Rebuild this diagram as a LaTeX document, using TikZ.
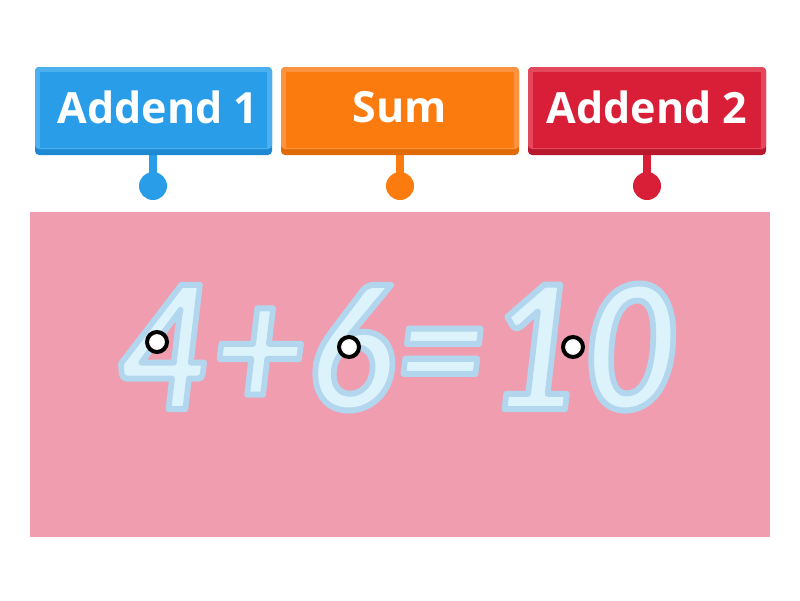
\documentclass[tikz,border=0pt]{standalone}
\usepackage{fontspec}
\usetikzlibrary{calc}
\setmainfont{Open Sans}
\newfontfamily\numfont{Lato}
\definecolor{pinkbg}{HTML}{F09DB0}
\definecolor{bluebase}{HTML}{1E88D2}
\definecolor{bluemain}{HTML}{2A9DE9}
\definecolor{bluetop}{HTML}{4DB0EE}
\definecolor{orangebase}{HTML}{E06A05}
\definecolor{orangemain}{HTML}{FB7B0E}
\definecolor{orangetop}{HTML}{FC9340}
\definecolor{redbase}{HTML}{B8182E}
\definecolor{redmain}{HTML}{D81F37}
\definecolor{redtop}{HTML}{E4485C}
\definecolor{glyph}{HTML}{DDF3FB}
\newcommand{\strokedtext}[1]{\special{pdf:literal direct 2 Tr 6 w 1 j 0.70 0.84 0.93 RG}#1\special{pdf:literal direct 0 Tr}}
\tikzset{
  lbl/.style={font=\bfseries\fontsize{43}{48}\selectfont, text=white, inner sep=0pt},
  stem/.style={line width=8pt},
  pin/.style={circle, minimum size=28pt, inner sep=0pt},
  dotmark/.style={circle, draw=black, line width=4pt, fill=white, minimum size=20pt, inner sep=0pt},
  eqtext/.style={font=\numfont\bfseries\itshape\fontsize{172}{180}\selectfont, inner sep=0pt, xscale=0.95},
}
\begin{document}
\begin{tikzpicture}[x=1pt,y=-1pt]
\useasboundingbox (0,0) rectangle (800,600);
\fill[white] (0,0) rectangle (800,600);
% boxes
\foreach \nm/\xa/\xb/\col in {b1/35/272/blue, b2/281/519/orange, b3/528/766/red}{
  \fill[\col base, rounded corners=4pt] (\xa,67) rectangle (\xb,155);
  \fill[\col top, rounded corners=4pt] (\xa,67) rectangle (\xb,149);
  \fill[\col main] (\xa+5,72) rectangle (\xb-5,148);
}
\node[lbl] (t1) at (158,107) {Addend 1};
\node[lbl] (t2) at (400,107) {Sum};
\node[lbl] (t3) at (647,107) {Addend 2};
\node[pin, fill=bluemain] (p1) at (153,186) {};
\node[pin, fill=orangemain] (p2) at (400,186) {};
\node[pin, fill=redmain] (p3) at (647,186) {};
\coordinate (s1) at (153,155);
\coordinate (s2) at (400,155);
\coordinate (s3) at (647,155);
\draw[stem, bluemain] (s1) -- (p1.center);
\draw[stem, orangemain] (s2) -- (p2.center);
\draw[stem, redmain] (s3) -- (p3.center);
% pink area
\fill[pinkbg] (30,212) rectangle (770,537);
% glowing text
\node[eqtext, text=glyph] (eq) at (398,347) {\strokedtext{4+6=10}};
% markers
\node[dotmark] (d1) at (157,342) {};
\node[dotmark] (d2) at (349,347) {};
\node[dotmark] (d3) at (573,347) {};
\end{tikzpicture}
\end{document}
